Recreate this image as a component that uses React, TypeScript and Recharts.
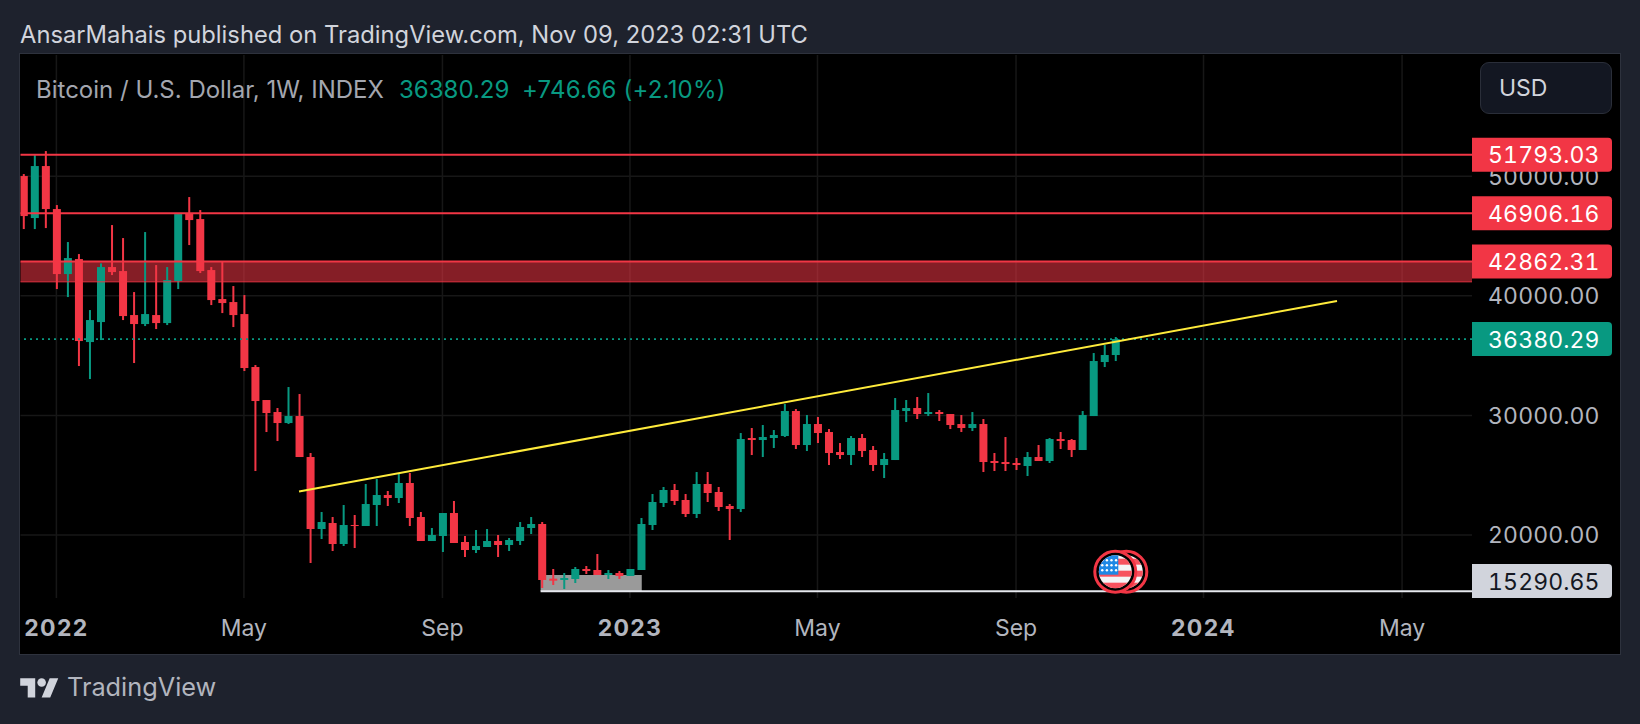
import { Bar, CartesianGrid, ComposedChart, ReferenceArea, ReferenceDot, ReferenceLine, XAxis, YAxis } from 'recharts';

// weekly BTCUSD candles, first one is the week of 2021-12-13
const opens = [50012, 46500, 50848, 47253, 41818, 43072, 36133, 37805, 42404, 42069, 38390, 37638, 38390, 37721, 41233, 46918, 46417, 42153, 39728, 39477,
    38473, 34045, 31285, 30282, 29362, 29948, 26520, 20500, 21002, 19246, 20835, 20751, 22507, 23343, 23093, 24347, 21504, 19497, 19915, 21838,
    19414, 18745, 18996, 19497, 19163, 19497, 20584, 20919, 16349, 16237, 16321, 17157, 17073, 16655, 16822, 16572, 17073, 20836, 22675, 23762,
    22926, 21755, 24264, 23595, 22424, 22172, 28109, 27941, 28109, 28276, 30366, 27523, 29279, 28610, 26938, 26687, 28109, 27105, 25851, 26269,
    30366, 30617, 30115, 30282, 30115, 29279, 28944, 29279, 26186, 26102, 26019, 25768, 26520, 26186, 28025, 27942, 27105, 29947, 34462, 35048];
const highs = [50179, 51768, 52102, 47587, 44494, 43490, 38808, 42710, 45915, 44828, 40313, 45330, 42571, 42404, 46890, 48256, 47169, 42404, 42905, 40815,
    40062, 34212, 31285, 30617, 32372, 31787, 26854, 21922, 21504, 22507, 21671, 24263, 24681, 23678, 25099, 25183, 21922, 20584, 21838, 22842,
    19915, 20417, 20500, 20000, 19748, 21086, 21504, 21086, 17157, 16822, 17324, 17408, 18411, 17073, 16990, 17157, 21421, 23427, 24013, 24264,
    23427, 25266, 25266, 24013, 22591, 28527, 28945, 29195, 28777, 30951, 30533, 30032, 29864, 28861, 27690, 28276, 28443, 27440, 26854, 31453,
    31286, 31537, 31870, 30449, 30115, 30031, 30282, 29697, 26855, 28193, 26437, 26938, 27524, 28109, 28611, 28025, 30366, 35215, 35884, 36553];
const lows = [45581, 45581, 45664, 40564, 39895, 34128, 33041, 36300, 41735, 37972, 34379, 37470, 37220, 37554, 40564, 44243, 41902, 39226, 38557, 37387,
    33710, 25349, 28610, 27857, 29279, 26520, 17659, 19664, 18661, 19079, 18912, 20751, 20751, 22424, 22674, 20751, 19497, 19497, 18578, 19330,
    18160, 18494, 18996, 18160, 18661, 19163, 20083, 15568, 15819, 15484, 15986, 16739, 16655, 16321, 16321, 16572, 17073, 20418, 22341, 22508,
    21504, 21421, 22759, 22006, 19581, 21921, 26687, 26520, 27273, 28192, 27189, 27022, 27690, 25851, 26353, 25851, 26520, 25350, 24764, 26269,
    29446, 29697, 29947, 29530, 28860, 28610, 28693, 25266, 25350, 25350, 25433, 24932, 26186, 26019, 27189, 26520, 27105, 29947, 34044, 34546];
const closes = [46667, 50848, 47253, 41818, 43156, 36217, 37972, 42404, 41985, 38306, 37638, 38473, 37721, 41316, 46835, 46333, 42069, 39644, 39394, 38390,
    33961, 31202, 30199, 29362, 29948, 26520, 20500, 21086, 19246, 20835, 20751, 22591, 23343, 23093, 24347, 21420, 19497, 20000, 21838, 19330,
    18745, 19079, 19497, 19163, 19581, 20668, 20919, 16237, 16181, 16404, 17157, 16990, 16655, 16822, 16572, 17157, 20919, 22759, 23762, 22842,
    21755, 24264, 23511, 22341, 22173, 28025, 27941, 28192, 28360, 30366, 27523, 29279, 28527, 26854, 26687, 28109, 27022, 25851, 26353, 30450,
    30617, 30115, 30282, 30115, 29195, 28944, 29279, 26102, 26019, 25935, 25852, 26520, 26186, 28025, 27858, 27106, 30031, 34546, 35048, 36380.29];

const tickWeeks = [3, 20, 38, 55, 72, 90, 107, 125];
const tickLabels = ['2022', 'May', 'Sep', '2023', 'May', 'Sep', '2024', 'May'];
const yearLabels = ['2022', '2023', '2024'];

const gridPrices = [20000, 30000, 40000, 50000];
const redLevels = [51793.03, 46906.16, 42862.31];
const lastPrice = 36380.29;
const supportPrice = 15290.65;
const zoneBottom = 41176;

const trendLine = [{ x: 25, y: 23640 }, { x: 119.1, y: 39560 }];
const supportBox = { x1: 46.9, x2: 56.07, y1: supportPrice, y2: 16656 };
const eventWeeks = [100, 99];
const eventPrice = 16932;

const candles = opens.map((open, i) => ({ week: i, open, high: highs[i], low: lows[i], close: closes[i] }));

const UP = '#089981';
const DOWN = '#f23645';
const FONT = 'Inter, "Noto Sans", sans-serif';

const CandleShape = (props: any) => {
    const { x, y, width, height, payload } = props;
    const color = payload.close >= payload.open ? UP : DOWN;
    const perUnit = height / (payload.high - payload.low);
    const top = y + (payload.high - Math.max(payload.open, payload.close)) * perUnit;
    const bodyH = Math.abs(payload.open - payload.close) * perUnit;
    return (
        <g>
            <rect x={x + width / 2 - 1} y={y} width={2} height={height} fill={color} />
            <rect x={x} y={top} width={width} height={Math.max(bodyH, 1)} fill={color} />
        </g>
    );
};

const labelStyle = (price: number) => {
    if (redLevels.includes(price)) return { bg: DOWN, text: '#ffffff' };
    if (price === lastPrice) return { bg: UP, text: '#ffffff' };
    if (price === supportPrice) return { bg: '#d1d4dc', text: '#131722' };
    return null;
};

const PriceTick = (props: any) => {
    const price = props.payload.value;
    const style = labelStyle(price);
    const cy = Math.min(props.y, 581);
    return (
        <g>
            {style && (
                <path
                    d={`M1472 ${cy - 17}H1608a4 4 0 0 1 4 4V${cy + 13}a4 4 0 0 1 -4 4H1472Z`}
                    fill={style.bg}
                />
            )}
            <text
                x={1599.5}
                y={cy + 8.5}
                textAnchor="end"
                fontFamily={FONT}
                fontSize={23}
                letterSpacing={0.1}
                style={{ fontVariantNumeric: 'tabular-nums' }}
                fill={style ? style.text : '#b2b5be'}
            >
                {price.toFixed(2)}
            </text>
        </g>
    );
};

const WeekTick = (props: any) => {
    const label = tickLabels[tickWeeks.indexOf(props.payload.value)];
    const isYear = yearLabels.includes(label);
    return (
        <text x={props.x} y={636} textAnchor="middle" fontFamily={FONT} fontSize={23} letterSpacing={isYear ? 1.3 : 0} fontWeight={isYear ? 700 : 400} fill="#b2b5be">
            {label}
        </text>
    );
};

const FlagMarker = (props: any) => {
    const { cx, cy } = props;
    const id = `flag-${Math.round(cx)}`;
    const dots = [];
    for (let row = 0; row < 3; row++) {
        for (let col = 0; col < 4; col++) {
            dots.push(<circle key={`${row}-${col}`} cx={cx - 13 + col * 4.6} cy={cy - 11.5 + row * 5} r={1.2} fill="#ffffff" />);
        }
    }
    return (
        <g>
            <circle cx={cx} cy={cy} r={20.5} fill="#000000" stroke={DOWN} strokeWidth={3} />
            <clipPath id={id}>
                <circle cx={cx} cy={cy} r={16.5} />
            </clipPath>
            <g clipPath={`url(#${id})`}>
                <rect x={cx - 17} y={cy - 17} width={34} height={34} fill="#f4f4f6" />
                <rect x={cx - 17} y={cy - 13} width={34} height={6} fill="#f7525f" />
                <rect x={cx - 17} y={cy - 1} width={34} height={6} fill="#f7525f" />
                <rect x={cx - 17} y={cy + 11} width={34} height={6} fill="#f7525f" />
                <rect x={cx - 17} y={cy - 17} width={20} height={20} fill="#1e88e5" />
                {dots}
            </g>
        </g>
    );
};

const textAt = (left: number, top: number, size: number, color: string) => ({
    position: 'absolute' as const,
    left,
    top,
    fontSize: size,
    lineHeight: '30px',
    color,
    fontFamily: FONT,
    whiteSpace: 'nowrap' as const,
});

export default function App() {
    return (
        <div style={{ position: 'fixed', left: 0, top: 0, width: 1640, height: 724, background: '#1e222d', overflow: 'hidden' }}>
            <div style={{ position: 'absolute', left: 20, top: 54, width: 1600, height: 600, background: '#000000', outline: '1px solid #2e323d' }} />
            <div style={{ position: 'absolute', left: 0, top: 0 }}>
                <ComposedChart width={1640} height={724} data={candles} margin={{ top: 55, right: 20, bottom: 70, left: 20.5 }}>
                    <CartesianGrid stroke="#171717" strokeWidth={1.5} horizontalValues={gridPrices} verticalValues={tickWeeks} />
                    <XAxis
                        type="number"
                        dataKey="week"
                        domain={[-0.254, 131.34]}
                        allowDataOverflow
                        ticks={tickWeeks}
                        interval={0}
                        height={56}
                        axisLine={false}
                        tickLine={false}
                        tick={WeekTick}
                    />
                    <YAxis
                        orientation="right"
                        width={148}
                        domain={[14732, 60134]}
                        ticks={[...gridPrices, ...redLevels, lastPrice, supportPrice]}
                        interval={0}
                        axisLine={false}
                        tickLine={false}
                        tick={PriceTick}
                    />
                    <ReferenceArea y1={zoneBottom} y2={redLevels[2]} fill={DOWN} fillOpacity={0.55} stroke="none" />
                    <ReferenceLine y={zoneBottom} stroke={DOWN} strokeWidth={1.5} strokeOpacity={0.6} />
                    {redLevels.map((level) => (
                        <ReferenceLine key={level} y={level} stroke={DOWN} strokeWidth={2} />
                    ))}
                    <ReferenceLine y={lastPrice} stroke={UP} strokeWidth={1.8} strokeDasharray="2 4" />
                    <ReferenceArea {...supportBox} fill="#9a9a9a" fillOpacity={1} stroke="none" />
                    <ReferenceLine
                        segment={[{ x: supportBox.x1, y: supportPrice }, { x: 131.34, y: supportPrice }]}
                        stroke="#e6e8ee"
                        strokeWidth={2}
                    />
                    <ReferenceLine segment={trendLine} stroke="#ffeb3b" strokeWidth={2} />
                    <Bar
                        dataKey={(d: any) => [d.low, d.high]}
                        barSize={8}
                        shape={CandleShape}
                        isAnimationActive={false}
                    />
                    {eventWeeks.map((week) => (
                        <ReferenceDot key={week} x={week} y={eventPrice} shape={FlagMarker} />
                    ))}
                </ComposedChart>
            </div>
            <div style={textAt(20, 20, 23.75, '#d1d4dc')}>AnsarMahais published on TradingView.com, Nov 09, 2023 02:31 UTC</div>
            <div style={textAt(36, 75, 24, '#a3a6af')}>Bitcoin / U.S. Dollar, 1W, INDEX</div>
            <div style={textAt(399, 75, 24, UP)}>36380.29</div>
            <div style={{ ...textAt(522, 75, 24, UP), letterSpacing: 0.2 }}>+746.66 (+2.10%)</div>
            <div style={{ ...textAt(1480, 62, 23, '#d1d4dc'), width: 132, height: 52, boxSizing: 'border-box', paddingLeft: 18, lineHeight: '50px', background: '#131722', border: '1.5px solid #2a2e39', borderRadius: 9 }}>USD</div>
            <svg style={{ position: 'absolute', left: 20, top: 674 }} width={39} height={30} viewBox="0 0 36 28">
                <path d="M14 22H7V11H0V4h14v18zM28 22h-8l7.5-18h8L28 22z" fill="#d1d4dc" />
                <circle cx={20} cy={8} r={4} fill="#d1d4dc" />
            </svg>
            <div style={textAt(67, 672, 25.3, '#b2b5be')}>TradingView</div>
        </div>
    );
}
